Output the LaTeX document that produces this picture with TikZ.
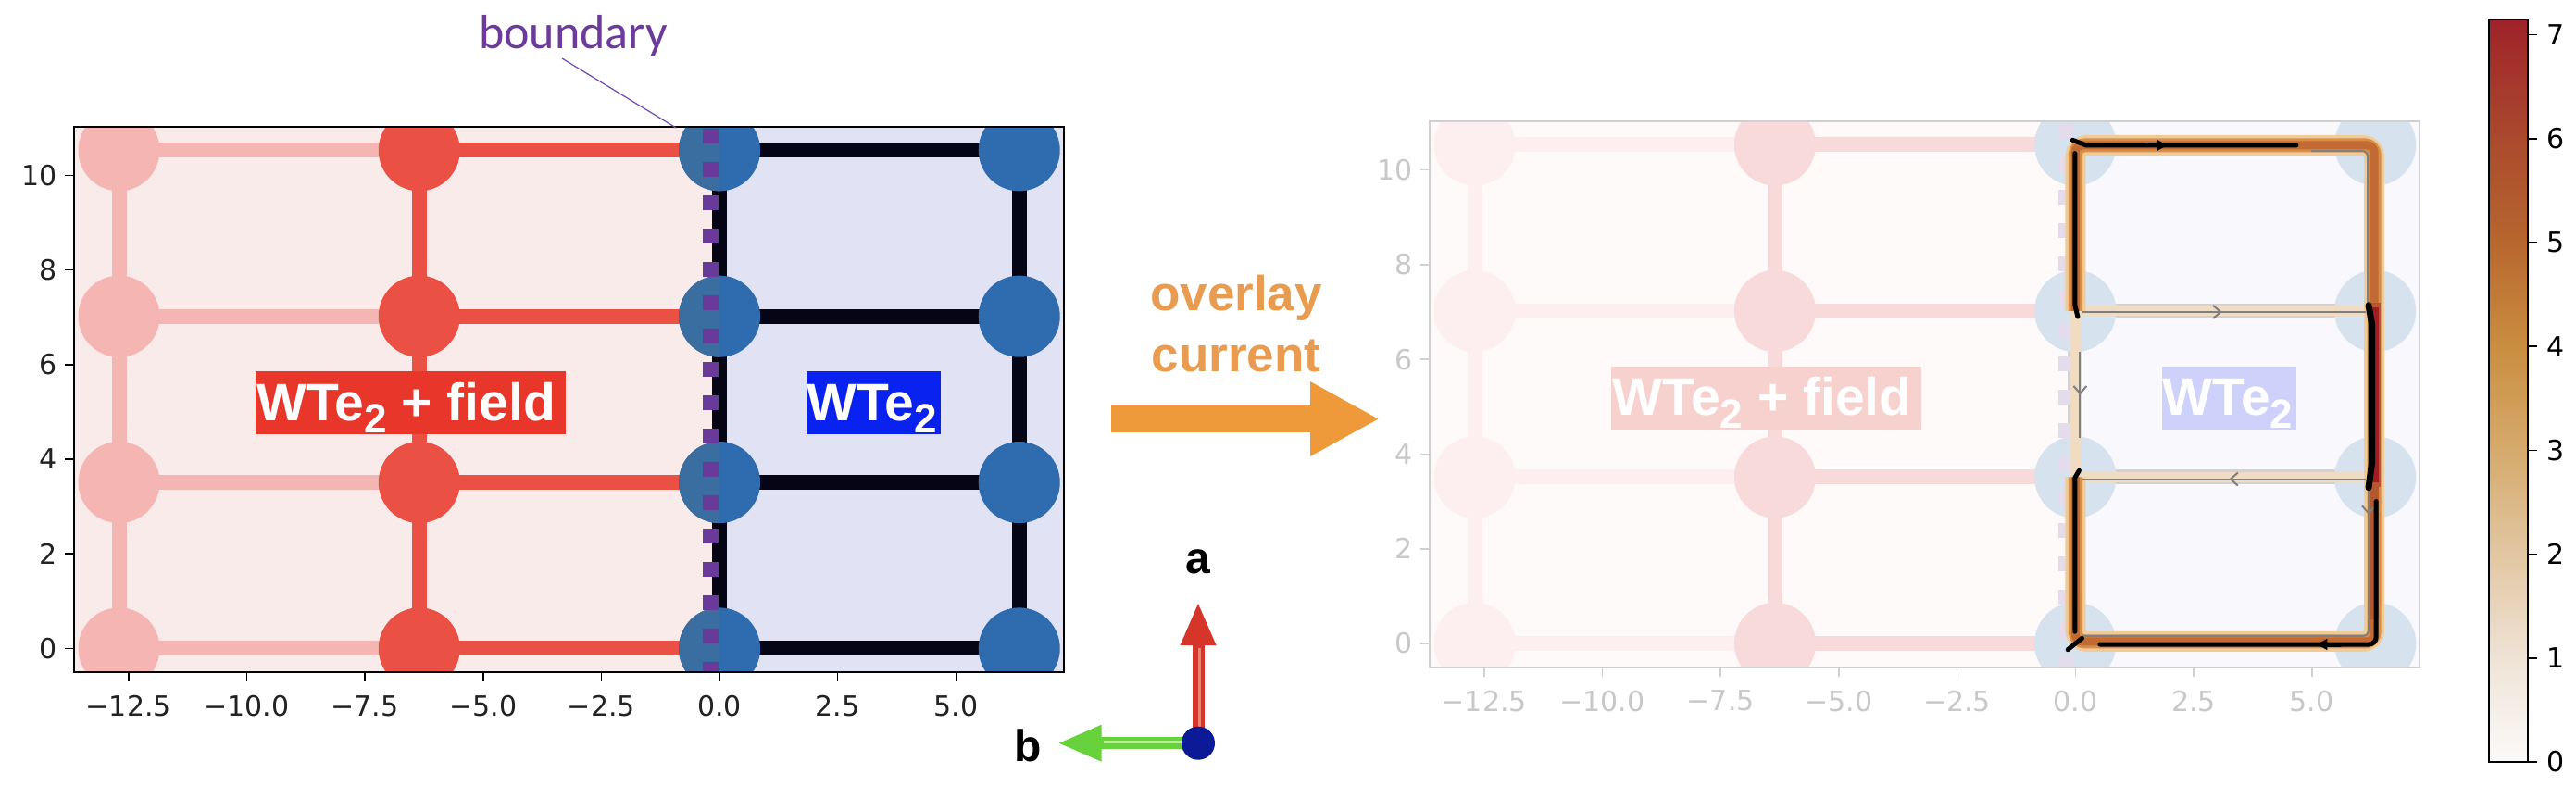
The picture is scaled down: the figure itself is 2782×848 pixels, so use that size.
\documentclass[tikz,border=0pt]{standalone}
\usepackage{fontspec}
\usetikzlibrary{arrows.meta}
\newfontfamily\dvs{DejaVu Sans}
\newfontfamily\lsans{Liberation Sans}
\newfontfamily\carl{Carlito}
\newcommand\ticksfont{\dvs\fontsize{15pt}{18pt}\selectfont}
\newcommand\cbfont{\dvs\fontsize{15pt}{18pt}\selectfont}
\newcommand\boxfont{\lsans\bfseries\fontsize{28.5pt}{30pt}\selectfont}
\newcommand\subtw[1]{\raisebox{-6.75pt}{\fontsize{22pt}{22pt}\selectfont #1}}
% left plot colours
\definecolor{lBgL}{HTML}{FAEBEB}
\definecolor{lBgR}{HTML}{E2E2F5}
\definecolor{lPink}{HTML}{F4B5B3}
\definecolor{lRed}{HTML}{EB5045}
\definecolor{lBlue}{HTML}{2E6BAF}
\definecolor{lBlueT}{HTML}{3B6EA0}
\definecolor{lBlack}{HTML}{050516}
\definecolor{lPurple}{HTML}{6A3A9A}
% faded plot colours
\definecolor{rBgL}{HTML}{FEFAFA}
\definecolor{rBgR}{HTML}{F8F8FD}
\definecolor{rPink}{HTML}{FDEFEF}
\definecolor{rRed}{HTML}{F9DADA}
\definecolor{rBlue}{HTML}{D6E2EE}
\definecolor{rBlack}{HTML}{D2D2D6}
\definecolor{rPurple}{HTML}{E4DBEC}
\definecolor{tickdark}{HTML}{222222}
\definecolor{tickfade}{HTML}{C8C8C8}
\definecolor{framefade}{HTML}{D0D0D0}
\definecolor{boxRed}{HTML}{E8372A}
\definecolor{boxBlue}{HTML}{0A22F0}
\definecolor{boxRedF}{HTML}{F7D1CE}
\definecolor{boxBlueF}{HTML}{CED1F9}
\definecolor{bndPurple}{HTML}{6B3A9B}
\definecolor{bndLine}{HTML}{6E4BAA}
\definecolor{ovl}{HTML}{E99B4F}
\definecolor{bigArrow}{HTML}{EF9A3A}
\definecolor{aRed}{HTML}{D6362A}
\definecolor{aRedL}{HTML}{F08070}
\definecolor{bGreen}{HTML}{68D23C}
\definecolor{bGreenL}{HTML}{B2F58A}
\definecolor{oBlue}{HTML}{0B1A96}
% colorbar
\definecolor{cb0}{HTML}{FBFAF9}
\definecolor{cb1}{HTML}{EFE3D6}
\definecolor{cb2}{HTML}{E2C6A2}
\definecolor{cb3}{HTML}{D5AA6C}
\definecolor{cb4}{HTML}{C98E3F}
\definecolor{cb5}{HTML}{B8672F}
\definecolor{cb6}{HTML}{AA4A2E}
\definecolor{cb7}{HTML}{A1282A}
\definecolor{cbT}{HTML}{9E2228}
% current overlay
\definecolor{curGlow}{HTML}{F0CB98}
\definecolor{curMid}{HTML}{D98E48}
\definecolor{curCore}{HTML}{C26A34}
\definecolor{curDark}{HTML}{B5582E}
\definecolor{curRed}{HTML}{A01E22}
\definecolor{curLt}{HTML}{EFDCC3}
\definecolor{stream}{HTML}{7F7F7F}

\tikzset{
  bondline/.style={line width=8pt, line cap=butt},
  blk/.style={line width=2.5pt, black, line cap=round, line join=round},
  gst/.style={line width=1pt, stream, line join=round},
  gtip/.style={gst, -{Straight Barb[length=4pt,width=7pt]}},
  btip/.style={blk, -{Latex[length=7pt,width=6.5pt]}},
}

\newcommand\drawlattice{%
  \begin{scope}
    \clip (-13.65,-0.5) rectangle (7.28,11.03);
    \fill[kBgL] (-13.65,-0.5) rectangle (0,11.03);
    \fill[kBgR] (0,-0.5) rectangle (7.28,11.03);
    \foreach \yy in {0,3.51,7.02,10.53}{
      \draw[bondline,kPink] (-12.7,\yy) -- (-6.35,\yy);
      \draw[bondline,kRed] (-6.35,\yy) -- (0,\yy);
      \draw[bondline,kBlack] (0,\yy) -- (6.34,\yy);
    }
    \draw[bondline,kPink] (-12.7,0) -- (-12.7,10.53);
    \draw[bondline,kRed] (-6.35,0) -- (-6.35,10.53);
    \draw[bondline,kBlack] (0,0) -- (0,10.53);
    \draw[bondline,kBlack] (6.34,0) -- (6.34,10.53);
    \foreach \yy in {0,3.51,7.02,10.53}{
      \fill[kPink] (-12.7,\yy) circle[radius=0.862];
      \fill[kRed] (-6.35,\yy) circle[radius=0.862];
      \fill[kBlue] (0,\yy) circle[radius=0.862];
      \fill[kBlue] (6.34,\yy) circle[radius=0.862];
      \begin{scope}
        \clip (-1,\yy-1) rectangle (0,\yy+1);
        \fill[kBlueT] (0,\yy) circle[radius=0.862];
      \end{scope}
    }
    \draw[kPurple, line width=8.5pt, dash pattern=on 8pt off 10pt] (-0.19,10.99) -- (-0.19,-0.5);
  \end{scope}}

\newcommand\drawaxes[3]{%
  \draw[#1, line width=1pt] (-13.65,-0.5) rectangle (7.28,11.03);
  \foreach \tv/\tl [count=\ti] in {-12.5/−12.5,-10/−10.0,-7.5/−7.5,-5/−5.0,-2.5/−2.5,0/0.0,2.5/2.5,5/5.0}{
    \draw[#1, line width=0.8pt] (\tv,-0.5) -- ++(0,-5pt);
    \node[text=#2, font=\ticksfont, anchor=north, inner sep=0pt] (#3x\ti) at ([yshift=-12.5pt]\tv,-0.5) {\tl};
  }
  \foreach \tv [count=\ti] in {0,2,4,6,8,10}{
    \draw[#1, line width=0.8pt] (-13.65,\tv) -- ++(-5pt,0);
    \node[text=#2, font=\ticksfont, anchor=east, inner sep=0pt] (#3y\ti) at ([xshift=-9pt]-13.65,\tv) {\tv};
  }}

\begin{document}
\begin{tikzpicture}[x=0.5pt,y=-0.5pt]
\useasboundingbox (0,0) rectangle (2782,848);
\fill[white] (0,0) rectangle (2782,848);

% ---------------- left plot ----------------
\begin{scope}[shift={(777,700.4)},x=25.53pt,y=25.55pt]
  \colorlet{kBgL}{lBgL}\colorlet{kBgR}{lBgR}\colorlet{kPink}{lPink}
  \colorlet{kRed}{lRed}\colorlet{kBlue}{lBlue}\colorlet{kBlueT}{lBlueT}
  \colorlet{kBlack}{lBlack}\colorlet{kPurple}{lPurple}
  \drawlattice
  \drawaxes{black}{tickdark}{L}
\end{scope}
\fill[boxRed] (276,401) rectangle (611,469);
\node[anchor=base west, inner sep=0pt, text=white, font=\boxfont] (lblFieldL) at (277,454.3) {WTe\subtw{2} + field};
\fill[boxBlue] (871,401) rectangle (1016,469);
\node[anchor=base west, inner sep=0pt, text=white, font=\boxfont] (lblWteL) at (871,454.3) {WTe\subtw{2}};

% boundary label
\node[anchor=base, inner sep=0pt, text=bndPurple, font=\carl\fontsize{26pt}{30pt}\selectfont] (bnd) at (619,52) {boundary};
\coordinate (bndA) at (607,63);
\coordinate (bndB) at (730,138);
\draw[bndLine, line width=0.6pt] (bndA) -- (bndB);

% ---------------- middle: arrow and triad ----------------
\node[anchor=base, inner sep=0pt, text=ovl, font=\lsans\bfseries\fontsize{26.5pt}{33pt}\selectfont] (ovl1) at (1335,335) {overlay};
\node[anchor=base, inner sep=0pt, text=ovl, font=\lsans\bfseries\fontsize{26.5pt}{33pt}\selectfont] (ovl2) at (1335,401.7) {current};
\coordinate (arrS) at (1200,452.5);
\coordinate (arrE) at (1490,452.5);
\draw[bigArrow, line width=14.2pt, -{Triangle[length=37.5pt,width=37.5pt]}] (arrS) -- (arrE);

\coordinate (orig) at (1294,802.7);
\coordinate (atip) at (1294,650);
\coordinate (btip) at (1141.7,802.7);
\draw[aRed, line width=6.5pt, -{Triangle[length=23.5pt,width=17.5pt]}] (orig) -- (atip);
\draw[aRedL, line width=1.5pt] (1295.5,790) -- (1295.5,700);
\draw[bGreen, line width=6.5pt, -{Triangle[length=24pt,width=18pt]}] (orig) -- (btip);
\draw[bGreenL, line width=1.5pt] (1280,801) -- (1192,801);
\node[circle, fill=oBlue, minimum size=18pt, inner sep=0pt] (odot) at (orig) {};
\node[inner sep=0pt, font=\lsans\bfseries\fontsize{24pt}{28pt}\selectfont] (la) at (1294,606.7) {a};
\node[inner sep=0pt, font=\lsans\bfseries\fontsize{24pt}{28pt}\selectfont] (lb) at (1110,805) {b};

% ---------------- right (faded) plot ----------------
\begin{scope}[shift={(2241.3,695)},x=25.54pt,y=25.575pt]
  \colorlet{kBgL}{rBgL}\colorlet{kBgR}{rBgR}\colorlet{kPink}{rPink}
  \colorlet{kRed}{rRed}\colorlet{kBlue}{rBlue}\colorlet{kBlueT}{rBlue}
  \colorlet{kBlack}{rBlack}\colorlet{kPurple}{rPurple}
  \drawlattice
  % middle links of the current
  \draw[curLt, line width=5.5pt] (0.1,7.02) -- (6.25,7.02);
  \draw[curLt, line width=5.5pt] (0.1,3.51) -- (6.25,3.51);
  \draw[curLt, line width=6.5pt] (0,3.51) -- (0,7.02);
  % outer loop band
  \draw[curGlow, line width=11pt, rounded corners=6pt, line join=round] (0,3.51) -- (0,0.04) -- (6.32,0.04) -- (6.32,10.52) -- (0,10.52) -- (0,7.02);
  \draw[curMid, line width=7.5pt, rounded corners=5pt, line join=round] (0,3.51) -- (0,0.04) -- (6.32,0.04) -- (6.32,10.52) -- (0,10.52) -- (0,7.02);
  \draw[curCore, line width=4.5pt, rounded corners=4pt, line join=round] (0,3.51) -- (0,0.04) -- (6.32,0.04) -- (6.32,10.52) -- (0,10.52) -- (0,7.02);
  \draw[curDark, line width=5pt] (6.32,0.5) -- (6.32,3.51);
  \draw[curDark, line width=7pt] (6.32,3.3) -- (6.32,7.2);
  \draw[curRed, line width=4pt] (6.33,3.4) -- (6.33,7.1);
  % grey stream lines
  \draw[gst, rounded corners=3pt] (4.99,10.40) -- (6.18,10.40) -- (6.18,7.15);
  \draw[gst] (0.15,7.0) -- (6.15,7.0);
  \draw[gtip] (2.6,7.0) -- (3.1,7.0);
  \draw[gst] (0.1,6.16) -- (0.1,4.34);
  \draw[gtip] (0.1,5.8) -- (0.1,5.25);
  \draw[gst] (6.15,3.47) -- (0.15,3.47);
  \draw[gtip] (3.8,3.47) -- (3.25,3.47);
  \draw[gst, rounded corners=3pt] (6.2,3.28) -- (6.2,0.16) -- (0.17,0.16);
  \draw[gtip] (6.2,3.2) -- (6.2,2.72);
  % black stream lines
  \draw[blk] (-0.06,10.63) -- (0.23,10.52) -- (4.67,10.52);
  \draw[btip] (1.5,10.52) -- (2.0,10.52);
  \draw[blk] (0.05,6.9) -- (-0.01,7.15) -- (-0.01,10.35);
  \draw[blk] (-0.01,0.25) -- (-0.01,3.5) -- (0.08,3.65);
  \draw[blk] (-0.16,-0.13) -- (0.14,0.11);
  \draw[blk, line width=3.5pt] (6.20,7.14) -- (6.27,6.74) -- (6.27,3.81) -- (6.20,3.29);
  \draw[blk, rounded corners=4pt] (6.36,3.0) -- (6.36,-0.02) -- (0.52,-0.02);
  \draw[btip] (5.6,-0.02) -- (5.05,-0.02);
  \drawaxes{framefade}{tickfade}{R}
\end{scope}
\fill[boxRedF] (1740.3,395.6) rectangle (2075.3,463.6);
\node[anchor=base west, inner sep=0pt, text=white, font=\boxfont] (lblFieldR) at (1741.3,448.9) {WTe\subtw{2} + field};
\fill[boxBlueF] (2335.3,395.6) rectangle (2480.3,463.6);
\node[anchor=base west, inner sep=0pt, text=white, font=\boxfont] (lblWteR) at (2335.3,448.9) {WTe\subtw{2}};

% ---------------- colour bar ----------------
\foreach \cv/\ca/\cbb in {0/cb0/cb1,1/cb1/cb2,2/cb2/cb3,3/cb3/cb4,4/cb4/cb5,5/cb5/cb6,6/cb6/cb7}{
  \shade[bottom color=\ca, top color=\cbb] (2688,{823-112.2*\cv+0.5}) rectangle (2730,{823-112.2*(\cv+1)});
}
\shade[bottom color=cb7, top color=cbT] (2688,{823-112.2*7+0.5}) rectangle (2730,21);
\draw[black, line width=1pt] (2688,21) rectangle (2730,823);
\foreach \cv in {0,...,7}{
  \draw[black, line width=0.8pt] (2730,{823-112.2*\cv}) -- (2740,{823-112.2*\cv});
  \node[anchor=west, inner sep=0pt, font=\cbfont] (cbl\cv) at (2750,{823-112.2*\cv}) {\cv};
}
\end{tikzpicture}
\end{document}
